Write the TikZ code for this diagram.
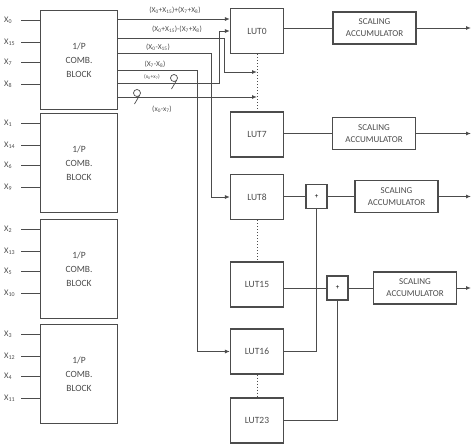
\documentclass[tikz,border=0pt]{standalone}
\usepackage{fontspec}
\setmainfont{Carlito}
\usetikzlibrary{arrows.meta}
\newcommand{\xs}[1]{X\textsubscript{#1}}
\newcommand{\ys}[1]{x\textsubscript{#1}}
\begin{document}
\begin{tikzpicture}[x=1pt,y=-1pt,
  comb/.style={draw=black!70, line width=1.1pt, minimum width=77pt, minimum height=99pt,
               align=center, inner sep=0pt, text=black!70, font=\fontsize{9.5}{14}\selectfont},
  lut/.style={draw=black!70, line width=1.1pt, minimum width=53pt, minimum height=45pt,
              inner sep=0pt, text=black!70, font=\fontsize{9.5}{10}\selectfont},
  acc/.style={draw=black!70, line width=1.1pt, minimum width=83pt, minimum height=32pt,
              align=center, inner sep=0pt, text=black!70, font=\fontsize{9}{12}\selectfont},
  plus/.style={draw=black!70, line width=1.1pt, minimum width=21pt, minimum height=24pt,
               inner sep=0pt, font=\fontsize{7}{7}\selectfont},
  inlbl/.style={anchor=west, text width=14pt, inner sep=1pt, text=black!70,
                font=\fontsize{8.5}{9}\selectfont},
  lbl/.style={inner sep=1pt, text=black!70, font=\fontsize{7.5}{8}\selectfont},
  wire/.style={draw=black!70, line width=1pt},
  arr/.style={wire, -{Latex[length=5pt,width=4pt]}}]
\useasboundingbox (0,0) rectangle (474,445);

% Blocs d'entree
\foreach \n/\y/\a/\b/\c/\d in {1/10/0/15/7/8, 2/113/1/14/6/9, 3/219/2/13/5/10, 4/324/3/12/4/11} {
  \node[comb, anchor=north west] (c\n) at (40,\y) {1/P\\COMB.\\BLOCK};
  \foreach \k/\o/\s in {1/10/\a, 2/32/\b, 3/52/\c, 4/74/\d} {
    \node[inlbl] (x\n\k) at (3,\y+\o) {\xs{\s}};
    \draw[wire] ([xshift=2pt]x\n\k.east) -- (c\n.west |- x\n\k.east);
  }
}

% LUTs
\foreach \n/\y in {0/31, 7/134.5, 8/197, 15/284.5, 16/351.5, 23/420.5}
  \node[lut] (lut\n) at (257,\y) {LUT\n};
\foreach \a/\b in {0/7, 8/15, 16/23}
  \draw[wire, dotted, line width=0.7pt] (lut\a.south) -- (lut\b.north);

% Additionneurs et accumulateurs
\node[plus] (p1) at (316.5,196.5) {+};
\node[plus] (p2) at (337.5,288) {+};
\node[acc] (acc1) at (374.5,28) {SCALING\\ACCUMULATOR};
\node[acc] (acc2) at (374,133.5) {SCALING\\ACCUMULATOR};
\node[acc] (acc3) at (396.5,196.5) {SCALING\\ACCUMULATOR};
\node[acc] (acc4) at (415,288) {SCALING\\ACCUMULATOR};
\coordinate (out) at (471,0);

\draw[wire] (lut0.east |- acc1.west) -- (acc1.west);
\draw[wire] (lut7.east |- acc2.west) -- (acc2.west);
\draw[wire] (lut8.east |- p1.west) -- (p1.west);
\draw[wire] (p1.east) -- (acc3.west);
\draw[wire] (lut15.east |- p2.west) -- (p2.west);
\draw[wire] (p2.east) -- (acc4.west);
\draw[wire] (lut16.east) -| (p1.south);
\draw[wire] (lut23.east) -| (p2.south);
\foreach \n in {1,...,4}
  \draw[arr] (acc\n.east) -- (acc\n.east -| out);

% Sorties du premier bloc
\foreach \k/\y in {1/19, 2/38, 3/53, 4/70, 5/83, 6/97}
  \coordinate (s\k) at (c1.east |- 0,\y);
\coordinate (d1) at (lut0.south |- 0,72);
\coordinate (d2) at (lut0.south |- 0,97);

\draw[arr] (s1) -- (s1 -| lut0.west);
\draw[arr] (s2) -- ++(106,0) |- (d1);
\draw[arr] (s3) -- ++(93,0) |- (lut8.west);
\draw[arr] (s4) -- ++(79,0) |- (lut16.west);
\draw[arr] (s5) -- ++(101,0) |- (lut0.west);
\draw[arr] (s6) -- (d2);

\node[lbl] (t1) at (175,10) {(\xs{0}+\xs{15})+(\xs{7}+\xs{8})};
\node[lbl] (t2) at (177,29) {(\xs{0}+\xs{15})-(\xs{7}+\xs{8})};
\node[lbl] (t3) at (158,47) {(\xs{0}-\xs{15})};
\node[lbl] (t4) at (155,64) {(\xs{7}-\xs{8})};
\node[lbl, font=\fontsize{5.5}{6}\selectfont] (t5) at (152,77) {(\ys{0}+\ys{7})};
\node[lbl] (t6) at (162,109) {(\ys{0}-\ys{7})};

% Croisements
\foreach \gx/\gy in {174/78, 137/93}
  \draw[wire, line width=0.7pt, shift={(\gx,\gy)}] (0,0) circle (3.5) (2.5,2.5) -- (-2.5,11);

\end{tikzpicture}
\end{document}
